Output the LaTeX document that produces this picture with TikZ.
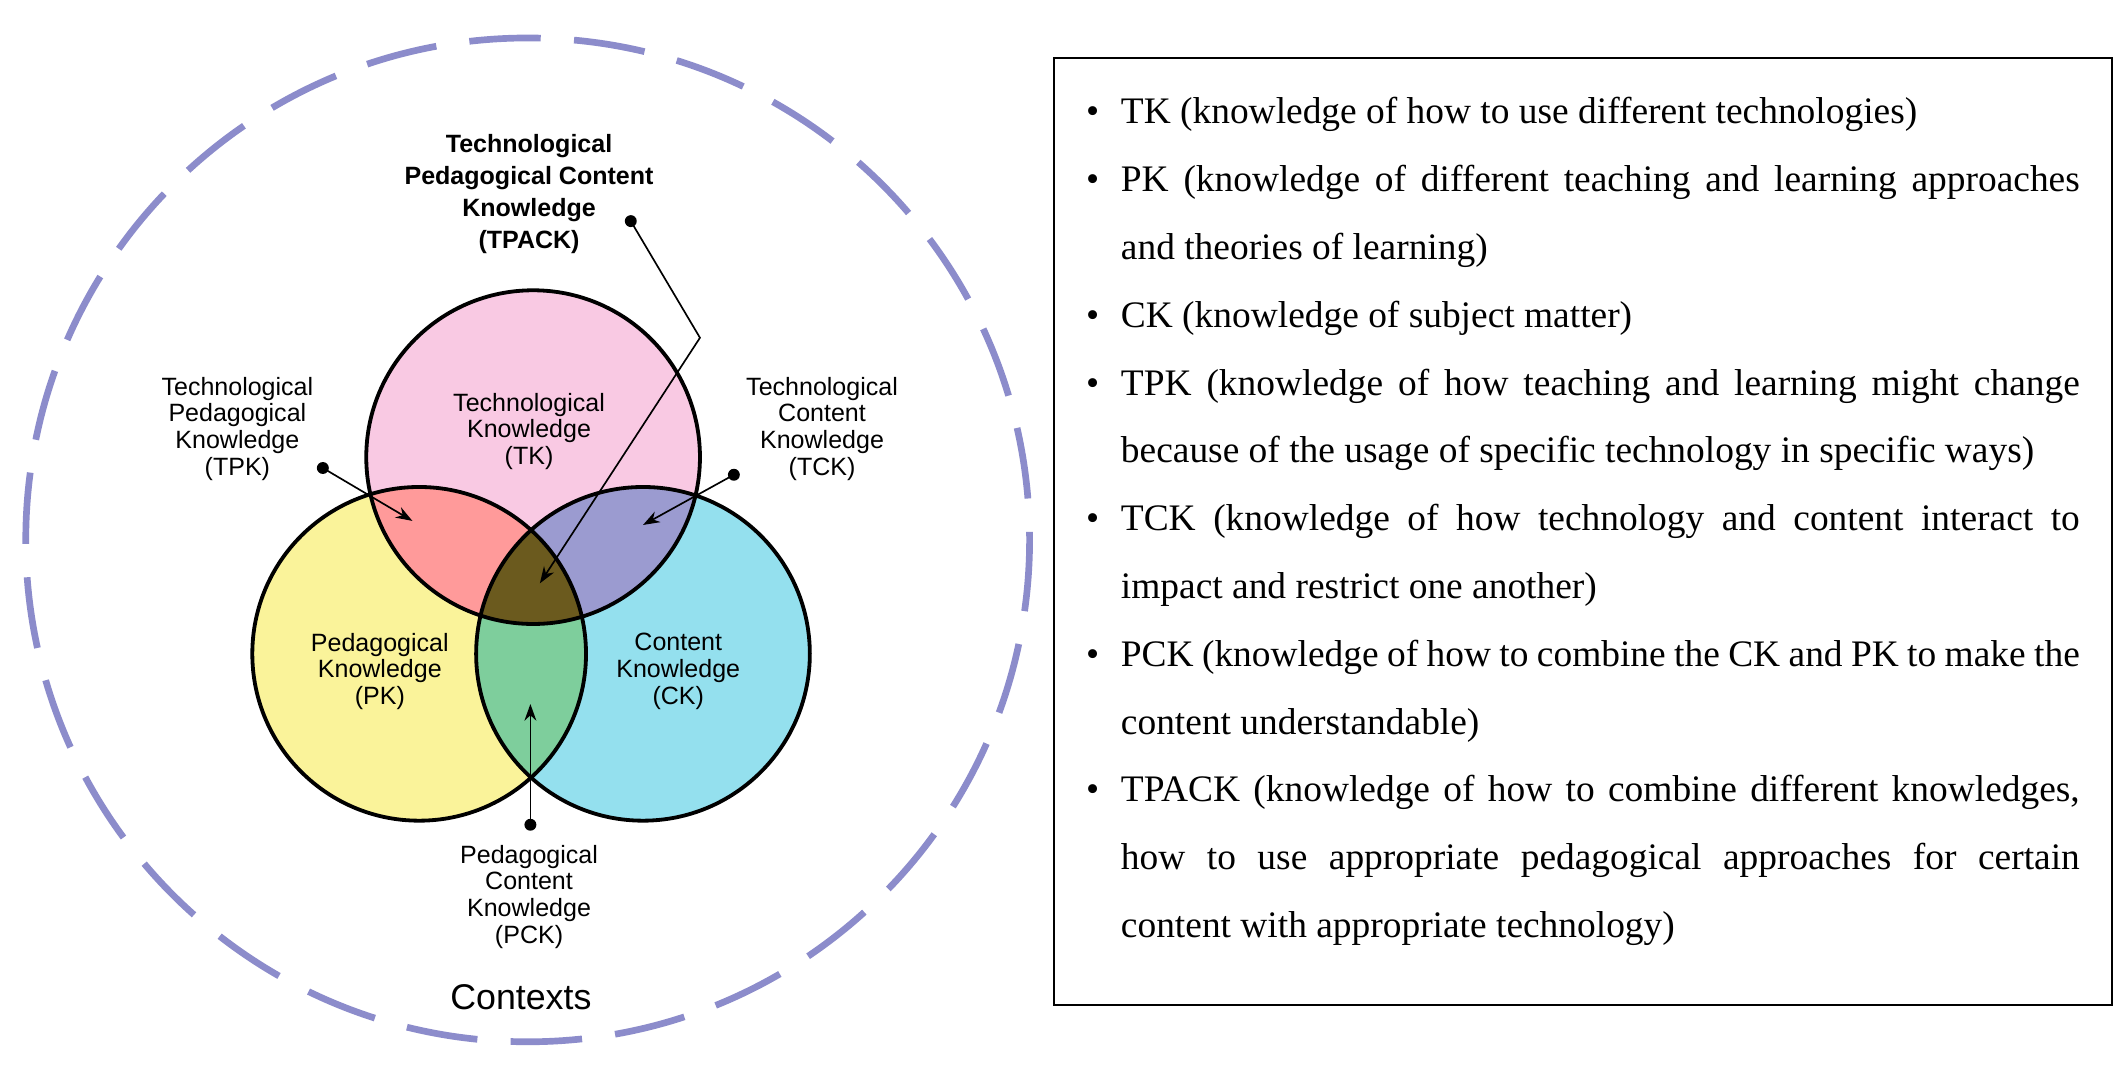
\documentclass[tikz,border=0pt]{standalone}
\usepackage{fontspec}
\setmainfont{Liberation Serif}
\newfontfamily\lab{Liberation Sans}
\usetikzlibrary{arrows.meta}
\definecolor{ctk}{HTML}{F9C9E3}
\definecolor{cpk}{HTML}{FAF39A}
\definecolor{cck}{HTML}{94E0EE}
\definecolor{ctpk}{HTML}{FF9A9A}
\definecolor{ctck}{HTML}{9B9BD0}
\definecolor{cpck}{HTML}{7ECE9C}
\definecolor{call}{HTML}{6B5A1E}
\definecolor{cdash}{HTML}{8C8CCB}
\tikzset{
  lbl/.style={font=\lab\fontsize{10.5}{11.2}\selectfont, align=center, inner sep=0pt},
  circ/.style={draw=black, line width=1.6pt},
  lead/.style={line width=0.7pt, -{Stealth[length=7pt,width=5pt]}},
  dotp/.style={circle, fill=black, inner sep=0pt, minimum size=5pt}
}
\begin{document}
\begin{tikzpicture}[x=0.02cm,y=-0.02cm]
\useasboundingbox (0,0) rectangle (1568,793);
\fill[white] (0,0) rectangle (1568,793);
\draw[cdash, line width=2.8pt, dash pattern=on 30pt off 14pt] (389,398) circle (370);
\coordinate (T) at (393,337);
\coordinate (P) at (309,482);
\coordinate (C) at (474,482);
\def\R{123}
\fill[ctk] (T) circle (\R);
\fill[cpk] (P) circle (\R);
\fill[cck] (C) circle (\R);
\begin{scope}\clip (T) circle (\R); \fill[ctpk] (P) circle (\R); \end{scope}
\begin{scope}\clip (T) circle (\R); \fill[ctck] (C) circle (\R); \end{scope}
\begin{scope}\clip (P) circle (\R); \fill[cpck] (C) circle (\R); \end{scope}
\begin{scope}\clip (T) circle (\R); \clip (P) circle (\R); \fill[call] (C) circle (\R); \end{scope}
\draw[circ] (T) circle (\R);
\draw[circ] (P) circle (\R);
\draw[circ] (C) circle (\R);
\node[lbl] (tk) at (390,318) {Technological\\Knowledge\\(TK)};
\node[lbl] (pk) at (280,495) {Pedagogical\\Knowledge\\(PK)};
\node[lbl] (ck) at (500,495) {Content\\Knowledge\\(CK)};
\node[lbl, font=\lab\bfseries\fontsize{10.5}{13.5}\selectfont] (tpack) at (390,143) {Technological\\Pedagogical Content\\Knowledge\\(TPACK)};
\node[lbl] (tpk) at (175,316) {Technological\\Pedagogical\\Knowledge\\(TPK)};
\node[lbl] (tck) at (606,316) {Technological\\Content\\Knowledge\\(TCK)};
\node[lbl] (pck) at (390,661) {Pedagogical\\Content\\Knowledge\\(PCK)};
\node[lbl, font=\lab\fontsize{15}{16}\selectfont] (ctx) at (384,735) {Contexts};
\node[dotp] (d1) at (465,163) {};
\node[dotp] (d2) at (238,345) {};
\node[dotp] (d3) at (541,350) {};
\node[dotp] (d4) at (391,608) {};
\coordinate (bend) at (516,249);
\coordinate (a1) at (398,430);
\coordinate (a2) at (304,384);
\coordinate (a3) at (474,387);
\coordinate (a4) at (391,519);
\draw[lead] (d1.center) -- (bend) -- (a1);
\draw[lead] (d2.center) -- (a2);
\draw[lead] (d3.center) -- (a3);
\draw[lead] (d4.center) -- (a4);
\draw[line width=0.8pt] (777,43) rectangle (1557,741);
\node[anchor=north west, inner sep=0pt, text width=14.7cm, align=justify,
  font=\fontsize{15.7}{28.45}\selectfont] (list) at (798,41) {%
\hyphenpenalty=10000 \exhyphenpenalty=10000
\leftskip=0.56cm
\def\itm#1{\par\noindent\llap{\textbullet\hspace{0.32cm}}#1\par}%
\itm{TK (knowledge of how to use different technologies)}
\itm{PK (knowledge of different teaching and learning approaches and theories of learning)}
\itm{CK (knowledge of subject matter)}
\itm{TPK (knowledge of how teaching and learning might change because of the usage of specific technology in specific ways)}
\itm{TCK (knowledge of how technology and content interact to impact and restrict one another)}
\itm{PCK (knowledge of how to combine the CK and PK to make the content understandable)}
\itm{TPACK (knowledge of how to combine different knowledges, how to use appropriate pedagogical approaches for certain content with appropriate technology)}
};
\end{tikzpicture}
\end{document}
